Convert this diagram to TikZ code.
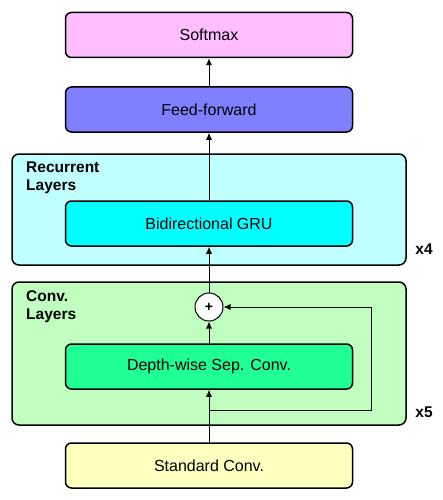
\documentclass[tikz,border=0pt]{standalone}
\usepackage{fontspec}
\setmainfont{Liberation Sans}
\usetikzlibrary{arrows.meta,positioning}
\definecolor{cSoft}{RGB}{255,190,255}
\definecolor{cFF}{RGB}{128,128,255}
\definecolor{cRecOut}{RGB}{192,255,255}
\definecolor{cGRU}{RGB}{0,255,255}
\definecolor{cConvOut}{RGB}{192,255,192}
\definecolor{cDW}{RGB}{32,255,150}
\definecolor{cStd}{RGB}{255,255,192}
\tikzset{
  blk/.style={draw=black,line width=1.5pt,rounded corners=6pt,minimum width=287pt,minimum height=45pt,inner sep=0pt,font=\fontsize{16}{18}\selectfont},
  grp/.style={draw=black,line width=1.5pt,rounded corners=7pt,minimum width=394pt,inner sep=0pt},
  lbl/.style={font=\bfseries\fontsize{15.5}{18}\selectfont,align=left,anchor=north west,inner sep=0pt},
  rep/.style={font=\bfseries\fontsize{15.5}{18}\selectfont,inner sep=0pt},
  arr/.style={-{Latex[length=7pt,width=6pt]},line width=0.9pt},
  ln/.style={line width=0.9pt}
}
\begin{document}
\begin{tikzpicture}[x=1pt,y=-1pt]
\useasboundingbox (0,0) rectangle (443,500);
% group boxes
\node[grp,fill=cRecOut,minimum height=111pt] (rec) at (209,209.5) {};
\node[grp,fill=cConvOut,minimum height=143pt] (conv) at (209,353.5) {};
\node[lbl] (recl) at (26,162) {Recurrent\\Layers};
\node[lbl] (convl) at (26,290) {Conv.\\Layers};
\node[rep] (x4) at (424,249) {x4};
\node[rep] (x5) at (424,412) {x5};
% blocks
\node[blk,fill=cSoft] (soft) at (209,35) {Softmax};
\node[blk,fill=cFF] (ff) at (209,109.5) {Feed-forward};
\node[blk,fill=cGRU] (gru) at (209,223.5) {Bidirectional GRU};
\node[blk,fill=cDW] (dw) at (209,366.5) {Depth-wise Sep. Conv.};
\node[blk,fill=cStd] (std) at (209,465.5) {Standard Conv.};
\node[draw=black,fill=white,circle,line width=1pt,minimum size=28pt,inner sep=0pt,font=\bfseries\fontsize{14}{16}\selectfont] (plus) at (209,307) {+};
% connectors
\draw[arr] (ff) -- (soft);
\draw[arr] (gru) -- (ff);
\draw[arr] (plus) -- (gru);
\draw[arr] (dw) -- (plus);
\draw[arr] (std) -- (dw);
\coordinate (br) at (209,410);
\draw[arr] (br) -- (371,410) -- (371,307) -- (plus);
\end{tikzpicture}
\end{document}
